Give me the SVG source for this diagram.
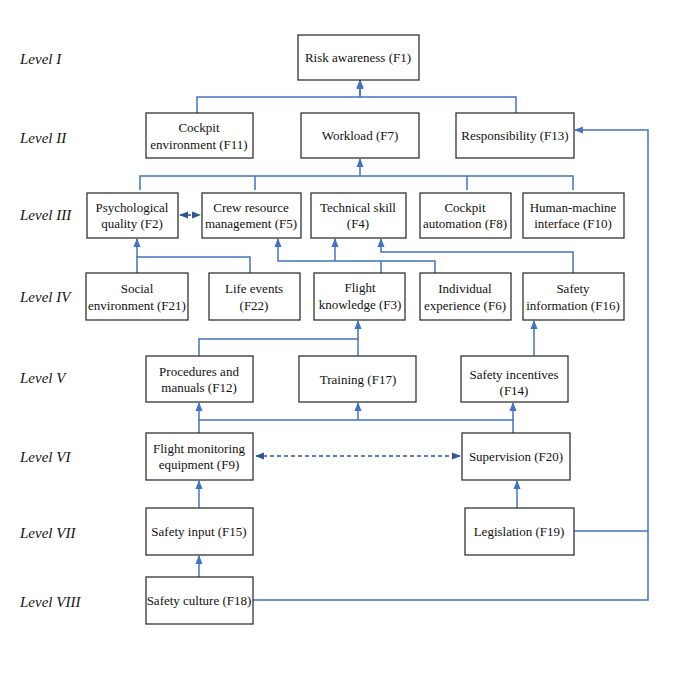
<svg xmlns="http://www.w3.org/2000/svg" width="685" height="678" viewBox="0 0 685 678">
<style>
.b{fill:#fff;stroke:#333;stroke-width:1.3}
.t{font-family:"Liberation Serif",serif;font-size:13px;fill:#111;text-anchor:middle}
.l{font-family:"Liberation Serif",serif;font-size:15px;font-style:italic;fill:#111}
.c{fill:none;stroke:#4472c4;stroke-width:1.5}
.d{stroke-dasharray:4,3;stroke:#2f5597}
</style>
<defs>
<marker id="a" viewBox="0 0 10 10" refX="9" refY="5" markerWidth="6" markerHeight="6" orient="auto-start-reverse"><path d="M0,1 L10,5 L0,9z" fill="#4472c4"/></marker>
<marker id="ad" viewBox="0 0 10 10" refX="9" refY="5" markerWidth="6" markerHeight="6" orient="auto-start-reverse"><path d="M0,1 L10,5 L0,9z" fill="#2f5597"/></marker>
</defs>
<g id="levels">
<text class="l" x="20" y="64">Level I</text>
<text class="l" x="20" y="143">Level II</text>
<text class="l" x="20" y="220">Level III</text>
<text class="l" x="20" y="302">Level IV</text>
<text class="l" x="20" y="383">Level V</text>
<text class="l" x="20" y="462">Level VI</text>
<text class="l" x="20" y="538">Level VII</text>
<text class="l" x="20" y="607">Level VIII</text>
</g>
<g id="connectors">
<path class="c" d="M197,113 V97 H516 V113 M360,97 V80" marker-end="url(#a)"/>
<path class="c" d="M360,97 V81" marker-end="url(#a)"/>
<path class="c" d="M140,190 V176 H573 V190 M255,176 V190 M467,176 V190"/>
<path class="c" d="M360,176 V159" marker-end="url(#a)"/>
<path class="c" d="M137,273 V257 H250 V273"/>
<path class="c" d="M137,257 V239" marker-end="url(#a)"/>
<path class="c" d="M435,273 V261 H278 V239" marker-end="url(#a)"/>
<path class="c" d="M381,273 V261"/>
<path class="c" d="M335,261 V239" marker-end="url(#a)"/>
<path class="c" d="M573,273 V252 H381 V239" marker-end="url(#a)"/>
<path class="c d" d="M180,215 H200" marker-start="url(#ad)" marker-end="url(#ad)"/>
<path class="c" d="M199,356 V339 H358 V321" marker-end="url(#a)"/>
<path class="c" d="M358,356 V339"/>
<path class="c" d="M534,356 V321" marker-end="url(#a)"/>
<path class="c" d="M199,433 V420 H513 V433"/>
<path class="c" d="M199,420 V403" marker-end="url(#a)"/>
<path class="c" d="M358,420 V403" marker-end="url(#a)"/>
<path class="c" d="M513,420 V403" marker-end="url(#a)"/>
<path class="c d" d="M256,456 H460" marker-start="url(#ad)" marker-end="url(#ad)"/>
<path class="c" d="M199,508 V481" marker-end="url(#a)"/>
<path class="c" d="M517,508 V481" marker-end="url(#a)"/>
<path class="c" d="M199,577 V556" marker-end="url(#a)"/>
<path class="c" d="M574,531 H648 M253,600 H648 V130 H575" marker-end="url(#a)"/>
</g>
<g id="F1"><rect class="b" x="298" y="35" width="121" height="45"/><text class="t" x="358" y="62">Risk awareness (F1)</text></g>
<g id="F11"><rect class="b" x="146" y="113" width="107" height="45"/><text class="t" x="199" y="132">Cockpit</text><text class="t" x="199" y="149">environment (F11)</text></g>
<g id="F7"><rect class="b" x="301" y="113" width="118" height="45"/><text class="t" x="360" y="140">Workload (F7)</text></g>
<g id="F13"><rect class="b" x="456" y="113" width="118" height="45"/><text class="t" x="515" y="140">Responsibility (F13)</text></g>
<g id="F2"><rect class="b" x="87" y="193" width="91" height="45"/><text class="t" x="132" y="212">Psychological</text><text class="t" x="132" y="228">quality (F2)</text></g>
<g id="F5"><rect class="b" x="202" y="193" width="99" height="45"/><text class="t" x="251" y="212">Crew resource</text><text class="t" x="251" y="228">management (F5)</text></g>
<g id="F4"><rect class="b" x="311" y="193" width="95" height="45"/><text class="t" x="358" y="212">Technical skill</text><text class="t" x="358" y="228">(F4)</text></g>
<g id="F8"><rect class="b" x="420" y="193" width="91" height="45"/><text class="t" x="465" y="212">Cockpit</text><text class="t" x="465" y="228">automation (F8)</text></g>
<g id="F10"><rect class="b" x="523" y="193" width="101" height="45"/><text class="t" x="573" y="212">Human-machine</text><text class="t" x="573" y="228">interface (F10)</text></g>
<g id="F21"><rect class="b" x="86" y="273" width="102" height="47"/><text class="t" x="137" y="293">Social</text><text class="t" x="137" y="310">environment (F21)</text></g>
<g id="F22"><rect class="b" x="209" y="273" width="91" height="47"/><text class="t" x="254" y="293">Life events</text><text class="t" x="254" y="310">(F22)</text></g>
<g id="F3"><rect class="b" x="314" y="273" width="91" height="47"/><text class="t" x="360" y="292">Flight</text><text class="t" x="360" y="309">knowledge (F3)</text></g>
<g id="F6"><rect class="b" x="420" y="273" width="91" height="47"/><text class="t" x="465" y="293">Individual</text><text class="t" x="465" y="310">experience (F6)</text></g>
<g id="F16"><rect class="b" x="523" y="273" width="101" height="47"/><text class="t" x="573" y="293">Safety</text><text class="t" x="573" y="310">information (F16)</text></g>
<g id="F12"><rect class="b" x="146" y="356" width="107" height="46"/><text class="t" x="199" y="376">Procedures and</text><text class="t" x="199" y="392">manuals (F12)</text></g>
<g id="F17"><rect class="b" x="299" y="356" width="117" height="46"/><text class="t" x="358" y="384">Training (F17)</text></g>
<g id="F14"><rect class="b" x="461" y="356" width="107" height="46"/><text class="t" x="514" y="379">Safety incentives</text><text class="t" x="514" y="395">(F14)</text></g>
<g id="F9"><rect class="b" x="146" y="433" width="107" height="47"/><text class="t" x="199" y="453">Flight monitoring</text><text class="t" x="199" y="469">equipment (F9)</text></g>
<g id="F20"><rect class="b" x="462" y="433" width="108" height="47"/><text class="t" x="516" y="461">Supervision (F20)</text></g>
<g id="F15"><rect class="b" x="146" y="508" width="107" height="47"/><text class="t" x="199" y="536">Safety input (F15)</text></g>
<g id="F19"><rect class="b" x="465" y="508" width="109" height="47"/><text class="t" x="519" y="536">Legislation (F19)</text></g>
<g id="F18"><rect class="b" x="146" y="577" width="107" height="47"/><text class="t" x="199" y="605">Safety culture (F18)</text></g>
</svg>
